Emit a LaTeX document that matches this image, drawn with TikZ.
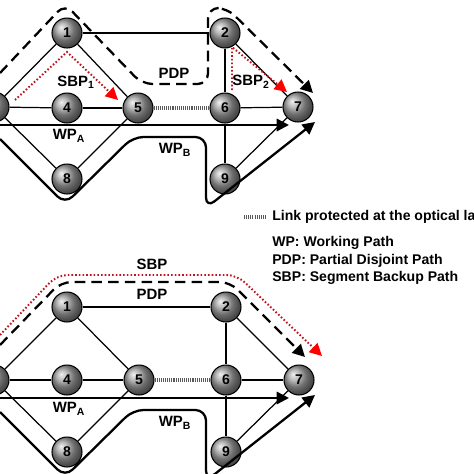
\documentclass[tikz,border=0pt]{standalone}
\usepackage{fontspec}
\setmainfont{Liberation Sans}
\usepackage{xcolor}
\definecolor{sbpred}{RGB}{190, 20, 30}
\usetikzlibrary{arrows.meta, shadings}

\begin{document}
\begin{tikzpicture}[
    x=0.02cm, y=-0.02cm,
    router/.style={circle, draw=black, line width=0.6pt, shading=ball, ball color=gray!75, minimum size=0.6cm, inner sep=0pt, font=\bfseries\fontsize{8}{8}\selectfont},
    link/.style={line width=0.7pt},
    optlink/.style={line width=2.6pt, black!65, dash pattern=on 0.6pt off 0.6pt},
    wpath/.style={line width=1.3pt, rounded corners=6pt, -{Triangle[length=7pt, width=7pt]}},
    pdpath/.style={wpath, dash pattern=on 6pt off 3.5pt},
    sbpath/.style={line width=1.1pt, sbpred, dash pattern=on 0.9pt off 1.2pt, rounded corners=6pt, -{Triangle[length=7pt, width=7pt, color=red]}},
    lbl/.style={font=\bfseries\fontsize{8.5}{10}\selectfont, inner sep=0pt},
    legend/.style={font=\bfseries\fontsize{8}{10}\selectfont, inner sep=0pt, anchor=west}
]
    \useasboundingbox (0, 0) rectangle (474, 474);

    % Top network
    \node[router] (a1) at (67, 33) {1};
    \node[router] (a2) at (225, 33) {2};
    \node[router] (a3) at (-6, 107) {3};
    \node[router] (a4) at (67, 108) {4};
    \node[router] (a5) at (138, 108) {5};
    \node[router] (a6) at (225, 108) {6};
    \node[router] (a7) at (298, 107) {7};
    \node[router] (a8) at (67, 179) {8};
    \node[router] (a9) at (225, 179) {9};

    \draw[link] (a3) -- (a1);
    \draw[link] (a3) -- (a4);
    \draw[link] (a3) -- (a8);
    \draw[link] (a1) -- (a5);
    \draw[link] (a4) -- (a5);
    \draw[link] (a8) -- (a5);
    \draw[link] (a1) -- (a2);
    \draw[link] (a2) -- (a6);
    \draw[link] (a6) -- (a7);
    \draw[link] (a6) -- (a9);
    \draw[link] (a2) -- (a7);
    \draw[link] (a9) -- (a7);
    \draw[optlink] (a5) -- (a6);

    % Top paths
    \coordinate (wpa1) at (0, 125);
    \coordinate (wpa2) at (289, 125);
    \draw[wpath] (wpa1) -- (wpa2);
    \coordinate (wpb1) at (0, 139);
    \coordinate (wpb2) at (315, 122);
    \draw[wpath] (wpb1) -- (65, 204) -- (133, 137) -- (206, 137) -- (206, 208) -- (wpb2);
    \coordinate (pdp1) at (0, 73);
    \coordinate (pdp2) at (313, 93);
    \draw[pdpath] (pdp1) -- (65, 4) -- (142, 84) -- (208, 84) -- (208, 8) -- (227, 8) -- (pdp2);
    \coordinate (sbpa1) at (15, 100);
    \coordinate (sbpa2) at (118, 100);
    \draw[sbpath, rounded corners=0pt] (sbpa1) -- (67, 52) -- (sbpa2);
    \coordinate (sbpb1) at (232, 90);
    \coordinate (sbpb2) at (287, 92);
    \draw[sbpath, rounded corners=0pt] (sbpb1) -- (232, 47) -- (sbpb2);

    \node[lbl] (sbp1lbl) at (76, 82) {SBP\textsubscript{1}};
    \node[lbl] (pdplbl) at (174, 73) {PDP};
    \node[lbl] (sbp2lbl) at (251, 82) {SBP\textsubscript{2}};
    \node[lbl] (wpalbl) at (69, 136) {WP\textsubscript{A}};
    \node[lbl] (wpblbl) at (175, 150) {WP\textsubscript{B}};

    % Legend
    \coordinate (swatch1) at (244, 217);
    \coordinate (swatch2) at (266, 217);
    \draw[optlink] (swatch1) -- (swatch2);
    \node[legend] (legopt) at (272, 217) {Link protected at the optical layer};
    \node[legend] (legwp) at (272, 243) {WP: Working Path};
    \node[legend] (legpdp) at (272, 261) {PDP: Partial Disjoint Path};
    \node[legend] (legsbp) at (272, 278) {SBP: Segment Backup Path};

    % Bottom network
    \node[router] (b1) at (67, 307) {1};
    \node[router] (b2) at (226, 307) {2};
    \node[router] (b3) at (-6, 380) {3};
    \node[router] (b4) at (67, 380) {4};
    \node[router] (b5) at (139, 380) {5};
    \node[router] (b6) at (226, 380) {6};
    \node[router] (b7) at (299, 380) {7};
    \node[router] (b8) at (67, 452) {8};
    \node[router] (b9) at (226, 452) {9};

    \draw[link] (b3) -- (b1);
    \draw[link] (b3) -- (b4);
    \draw[link] (b3) -- (b8);
    \draw[link] (b1) -- (b5);
    \draw[link] (b4) -- (b5);
    \draw[link] (b8) -- (b5);
    \draw[link] (b1) -- (b2);
    \draw[link] (b2) -- (b6);
    \draw[link] (b6) -- (b7);
    \draw[link] (b6) -- (b9);
    \draw[link] (b2) -- (b7);
    \draw[link] (b9) -- (b7);
    \draw[optlink] (b5) -- (b6);

    % Bottom paths
    \coordinate (wpc1) at (0, 398);
    \coordinate (wpc2) at (289, 398);
    \draw[wpath] (wpc1) -- (wpc2);
    \coordinate (wpd1) at (0, 412);
    \coordinate (wpd2) at (315, 395);
    \draw[wpath] (wpd1) -- (65, 477) -- (133, 410) -- (206, 410) -- (206, 481) -- (wpd2);
    \coordinate (pdp3) at (0, 345);
    \coordinate (pdp4) at (305, 357);
    \draw[pdpath] (pdp3) -- (61, 282) -- (230, 282) -- (pdp4);
    \coordinate (sbpc1) at (0, 335);
    \coordinate (sbpc2) at (322, 356);
    \draw[sbpath] (sbpc1) -- (57, 275) -- (237, 275) -- (sbpc2);

    \node[lbl] (sbplbl) at (152, 264) {SBP};
    \node[lbl] (pdplbl2) at (152, 294) {PDP};
    \node[lbl] (wpclbl) at (69, 409) {WP\textsubscript{A}};
    \node[lbl] (wpdlbl) at (175, 423) {WP\textsubscript{B}};

\end{tikzpicture}
\end{document}
